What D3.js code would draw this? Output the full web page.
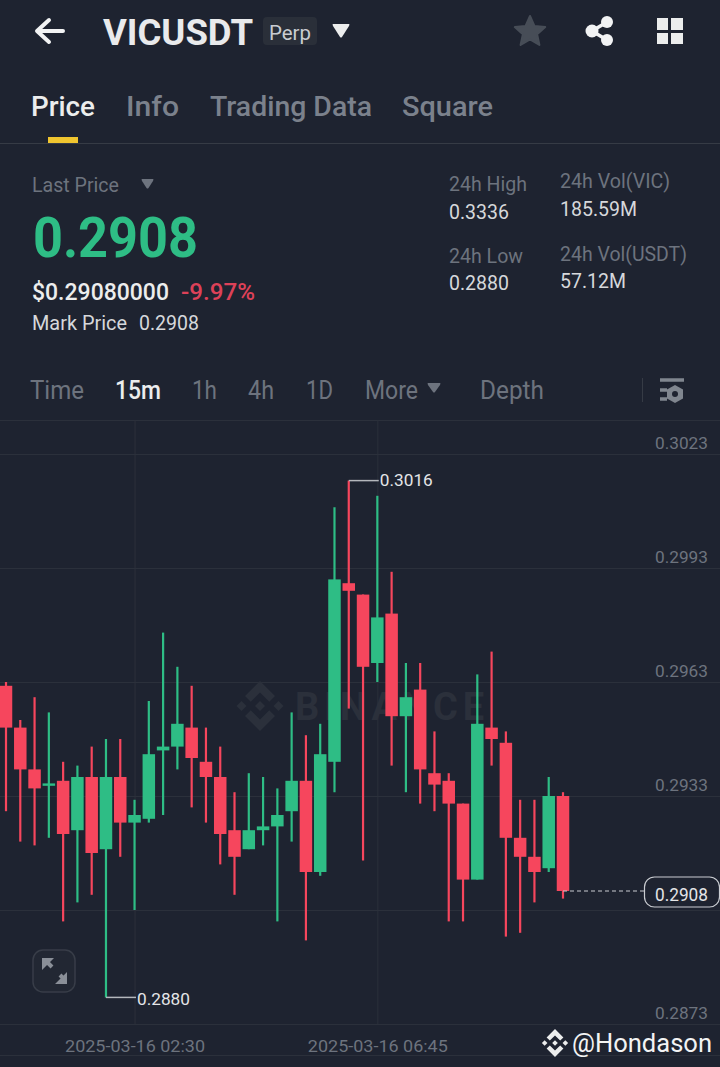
<!DOCTYPE html>
<html>
<head>
<meta charset="utf-8">
<script src="https://cdn.jsdelivr.net/npm/d3@7"></script>
<style>
  html, body { margin: 0; padding: 0; background: #1e2330; }
  svg { display: block; font-family: Roboto, sans-serif; }
</style>
</head>
<body>
<svg id="chart"></svg>
<script>
// candles, 15m each
const opens  = [.2962,.2951,.2940,.2936,.2937,.2924,.2938,.2919,.2938,.2926,.2927,.2945,.2946,.2951,.2942,.2938,.2924,.2919,.2924,.2925,.2929,.2937,.2913,.2942,.2989,.2986,.2968,.2981,.2954,.2961,.2939,.2937,.2931,.2911,.2951,.2947,.2922,.2917,.2914,.2933];
const closes = [.2951,.2940,.2935,.2936,.2923,.2938,.2918,.2938,.2926,.2928,.2944,.2946,.2952,.2943,.2938,.2923,.2917,.2924,.2925,.2928,.2937,.2913,.2944,.2990,.2987,.2967,.2980,.2954,.2959,.2940,.2936,.2931,.2911,.2952,.2948,.2922,.2917,.2913,.2933,.2908];
const highs  = [.2963,.2953,.2959,.2955,.2942,.2941,.2946,.2948,.2948,.2932,.2958,.2976,.2967,.2962,.2951,.2946,.2934,.2939,.2938,.2935,.2955,.2949,.2952,.3009,.3016,.2986,.3012,.2992,.2968,.2968,.2950,.2939,.2931,.2965,.2971,.2950,.2932,.2932,.2938,.2934];
const lows   = [.2929,.2921,.2920,.2922,.2900,.2905,.2907,.2880,.2917,.2903,.2926,.2928,.2940,.2930,.2926,.2915,.2907,.2919,.2920,.2900,.2921,.2895,.2912,.2934,.2956,.2916,.2963,.2941,.2934,.2931,.2929,.2900,.2900,.2911,.2941,.2896,.2897,.2905,.2913,.2906];

const priceTicks = [.3023,.2993,.2963,.2933,.2903,.2873];
const hiddenTick = .2903; // its label sits behind the last price tag
const firstTime = new Date(2025, 2, 16, 0, 15);
const timeTicks = [new Date(2025, 2, 16, 2, 30), new Date(2025, 2, 16, 6, 45)];
const lastPrice = .2908;
const highMark = .3016;
const lowMark = .2880;

const width = 720, height = 1067;
const chartTop = 420, chartBottom = 1024, axisBottom = 1055;
const bg = '#1e2330', grid = '#2b303b';
const up = '#2ebd85', down = '#f6465d';
const muted = '#6d737e', soft = '#d6d8db';

const svg = d3.select('#chart')
  .attr('width', width)
  .attr('height', height)
  .attr('viewBox', [0, 0, width, height]);

svg.append('rect').attr('width', width).attr('height', height).attr('fill', bg);

const candles = opens.map((o, i) => ({
  time: d3.timeMinute.offset(firstTime, i * 15),
  o, c: closes[i], h: highs[i], l: lows[i]
}));

const x = d3.scaleTime().domain([candles[0].time, candles[candles.length - 1].time]).range([6, 563]);
const y = d3.scaleLinear().domain([.2873, .3023]).range([chartBottom, 454]);

// text with a fixed width, the app font is narrower than anything installed
function label(g, text, tx, ty, size, fill, w, weight) {
  const t = g.append('text')
    .attr('x', tx).attr('y', ty)
    .attr('font-size', size)
    .attr('fill', fill)
    .attr('font-weight', weight || 400)
    .text(text);
  if (w) t.attr('textLength', w).attr('lengthAdjust', 'spacingAndGlyphs');
  return t;
}

function triangle(g, x0, y0, w, h, fill) {
  g.append('path')
    .attr('d', `M${x0 + 1},${y0}H${x0 + w - 1}Q${x0 + w},${y0} ${x0 + w - 1},${y0 + 2}L${x0 + w / 2 + 1},${y0 + h - 1}Q${x0 + w / 2},${y0 + h} ${x0 + w / 2 - 1},${y0 + h - 1}L${x0 + 1},${y0 + 2}Q${x0},${y0} ${x0 + 1},${y0}Z`)
    .attr('fill', fill);
}

function binanceLogo(g, cx, cy, r, fill) {
  const shapes = [
    [[0, -.2], [.2, 0], [0, .2], [-.2, 0]],
    [[-.74, -.2], [-.54, 0], [-.74, .2], [-.94, 0]],
    [[.74, -.2], [.94, 0], [.74, .2], [.54, 0]],
    [[0, -1], [.6, -.4], [.37, -.17], [0, -.54], [-.37, -.17], [-.6, -.4]],
    [[0, 1], [.6, .4], [.37, .17], [0, .54], [-.37, .17], [-.6, .4]]
  ];
  g.append('g').selectAll('polygon').data(shapes).join('polygon')
    .attr('points', d => d.map(p => [cx + p[0] * r, cy + p[1] * r].join(',')).join(' '))
    .attr('fill', fill);
}

// header
const head = svg.append('g');
head.append('path').attr('d', 'M63,31H38M49,20L37,31L49,42')
  .attr('fill', 'none').attr('stroke', '#f2f3f4').attr('stroke-width', 4)
  .attr('stroke-linecap', 'round').attr('stroke-linejoin', 'round');
label(head, 'VICUSDT', 103, 45, 36, '#e9eaec', 150, 700);
head.append('rect').attr('x', 263).attr('y', 17).attr('width', 54).attr('height', 28).attr('rx', 4).attr('fill', '#2a2f39');
label(head, 'Perp', 269, 40, 20, '#c9ccd1', 42);
triangle(head, 332, 24, 18, 14, '#eceded');
// star
const starPts = d3.range(10).map(i => {
  const a = -Math.PI / 2 + i * Math.PI / 5, r = i % 2 ? 7.5 : 16;
  return [530 + r * Math.cos(a), 32 + r * Math.sin(a)].join(',');
}).join(' ');
head.append('polygon').attr('points', starPts).attr('fill', '#474d57')
  .attr('stroke', '#474d57').attr('stroke-width', 2).attr('stroke-linejoin', 'round');
// share
head.append('path').attr('d', 'M607,22L592,31L607,40').attr('fill', 'none').attr('stroke', '#f2f3f4').attr('stroke-width', 3.5);
head.selectAll('circle.sh').data([[607, 22, 6], [592, 31, 6.5], [607, 40, 6]]).join('circle')
  .attr('cx', d => d[0]).attr('cy', d => d[1]).attr('r', d => d[2]).attr('fill', '#f2f3f4');
// layout icon
head.selectAll('rect.ic').data([[657, 18, 11, 12], [671, 18, 12, 12], [657, 33, 11, 11], [671, 33, 12, 11]]).join('rect')
  .attr('x', d => d[0]).attr('y', d => d[1]).attr('width', d => d[2]).attr('height', d => d[3]).attr('fill', '#eceded');

// tabs
label(head, 'Price', 31, 116, 28, '#eceded', 64, 500);
label(head, 'Info', 126, 116, 28, '#7b818c', 53, 500);
label(head, 'Trading Data', 210, 116, 28, '#7b818c', 162, 500);
label(head, 'Square', 402, 116, 28, '#7b818c', 91, 500);
head.append('rect').attr('x', 48).attr('y', 137).attr('width', 30).attr('height', 6).attr('fill', '#f0c52f');
head.append('line').attr('x1', 0).attr('x2', width).attr('y1', 143.5).attr('y2', 143.5).attr('stroke', '#363b45');

// price block
label(head, 'Last Price', 32, 192, 20, muted, 87);
triangle(head, 141, 179, 13, 10, muted);
label(head, '0.2908', 33, 257, 55, up, 165, 700);
label(head, '$0.29080000', 32, 300, 23, '#eceded', 137, 500);
label(head, '-9.97%', 181, 300, 23, '#dd4158', 74, 500);
label(head, 'Mark Price', 32, 330, 20, soft, 95);
label(head, '0.2908', 139, 330, 20, soft, 60);

label(head, '24h High', 449, 191, 20, muted, 78);
label(head, '0.3336', 449, 219, 20, soft, 60);
label(head, '24h Low', 449, 263, 20, muted, 74);
label(head, '0.2880', 449, 290, 20, soft, 60);
label(head, '24h Vol(VIC)', 560, 188, 20, muted, 110);
label(head, '185.59M', 560, 216, 20, soft, 77);
label(head, '24h Vol(USDT)', 560, 261, 20, muted, 127);
label(head, '57.12M', 560, 288, 20, soft, 66);

// interval row
label(head, 'Time', 30, 399, 25, muted, 54);
label(head, '15m', 115, 399, 25, '#eceded', 46, 500);
label(head, '1h', 192, 399, 25, muted, 25);
label(head, '4h', 248, 399, 25, muted, 26);
label(head, '1D', 306, 399, 25, muted, 27);
label(head, 'More', 365, 399, 25, muted, 53);
triangle(head, 427, 383, 14, 10, muted);
label(head, 'Depth', 480, 399, 25, muted, 64);
head.append('line').attr('x1', 642.5).attr('x2', 642.5).attr('y1', 378).attr('y2', 402).attr('stroke', '#363b45');
// settings icon
head.append('path').attr('d', 'M660,380H684M660,390H667M660,399H667').attr('stroke', '#80868f').attr('stroke-width', 3.5).attr('fill', 'none');
head.append('polygon').attr('points', '675,385 683,389.5 683,398.5 675,403 667,398.5 667,389.5').attr('fill', '#80868f');
head.append('circle').attr('cx', 675).attr('cy', 394).attr('r', 3).attr('fill', bg);

// chart frame and grid
svg.append('line').attr('x1', 0).attr('x2', width).attr('y1', chartTop + .5).attr('y2', chartTop + .5).attr('stroke', grid);

const xAxis = svg.append('g')
  .attr('transform', `translate(0,${chartBottom})`)
  .call(d3.axisBottom(x).tickValues(timeTicks).tickFormat(d3.timeFormat('%Y-%m-%d %H:%M')).tickSize(0).tickPadding(16));
xAxis.select('.domain').remove();
xAxis.selectAll('.tick text')
  .attr('font-family', 'Roboto, sans-serif').attr('font-size', 17).attr('fill', muted)
  .attr('textLength', 140).attr('lengthAdjust', 'spacingAndGlyphs');
xAxis.selectAll('.tick').append('line')
  .attr('y1', 0).attr('y2', chartTop - chartBottom).attr('stroke', grid);

const yAxis = svg.append('g')
  .call(d3.axisRight(y).tickValues(priceTicks)
    .tickFormat(d => d === hiddenTick ? '' : d3.format('.4f')(d))
    .tickSize(width).tickPadding(0));
yAxis.select('.domain').remove();
yAxis.selectAll('.tick line').attr('stroke', grid);
yAxis.selectAll('.tick text')
  .attr('x', 708).attr('y', -11).attr('dy', '.32em').attr('text-anchor', 'end')
  .attr('font-family', 'Roboto, sans-serif').attr('font-size', 17).attr('fill', muted)
  .attr('textLength', 53).attr('lengthAdjust', 'spacingAndGlyphs');
svg.append('line').attr('x1', 0).attr('x2', width).attr('y1', axisBottom + .5).attr('y2', axisBottom + .5).attr('stroke', grid);

// watermark
const mark = svg.append('g');
binanceLogo(mark, 260, 706, 25, '#2b303b');
mark.append('text').attr('x', 295).attr('y', 720).attr('font-size', 38).attr('font-weight', 700)
  .attr('fill', '#2b303b').attr('textLength', 189).attr('lengthAdjust', 'spacing').text('BINANCE');

// candles
const bodyWidth = 12.5;
const candle = svg.append('g').selectAll('g').data(candles).join('g')
  .attr('fill', d => d.c >= d.o ? up : down)
  .attr('stroke', d => d.c >= d.o ? up : down);
candle.append('line')
  .attr('x1', d => x(d.time)).attr('x2', d => x(d.time))
  .attr('y1', d => y(d.h)).attr('y2', d => y(d.l))
  .attr('stroke-width', 2.2);
candle.append('rect')
  .attr('stroke', 'none')
  .attr('x', d => x(d.time) - bodyWidth / 2)
  .attr('width', bodyWidth)
  .attr('y', d => Math.min(y(d.o), y(d.c)) - (d.o === d.c ? 1.2 : 0))
  .attr('height', d => Math.max(Math.abs(y(d.o) - y(d.c)), 2.4));

// high and low markers
const markers = [
  { time: candles[highs.indexOf(highMark)].time, price: highMark, dy: 5.5 },
  { time: candles[lows.indexOf(lowMark)].time, price: lowMark, dy: 7.5 }
];
const marker = svg.append('g').selectAll('g').data(markers).join('g');
marker.append('line')
  .attr('x1', d => x(d.time)).attr('x2', d => x(d.time) + 30)
  .attr('y1', d => y(d.price)).attr('y2', d => y(d.price))
  .attr('stroke', '#b4b7bc').attr('stroke-width', 1.5);
marker.append('text')
  .attr('x', d => x(d.time) + 31).attr('y', d => y(d.price) + d.dy)
  .attr('font-size', 17).attr('fill', '#e4e5e7')
  .attr('textLength', 53).attr('lengthAdjust', 'spacingAndGlyphs')
  .text(d => d.price.toFixed(4));

// last price tag
const tag = svg.append('g');
tag.append('line')
  .attr('x1', x(candles[candles.length - 1].time)).attr('x2', 644)
  .attr('y1', y(lastPrice)).attr('y2', y(lastPrice))
  .attr('stroke', '#c9ccd1').attr('stroke-dasharray', '4 3');
tag.append('rect').attr('x', 644.5).attr('y', y(lastPrice) - 14).attr('width', 75).attr('height', 30).attr('rx', 10)
  .attr('fill', bg).attr('stroke', '#c9ccd1').attr('stroke-width', 1.2);
label(tag, lastPrice.toFixed(4), 655, y(lastPrice) + 10, 18, '#e4e5e7', 53);

// expand button
const expand = svg.append('g');
expand.append('rect').attr('x', 33).attr('y', 950).attr('width', 42).attr('height', 42).attr('rx', 10)
  .attr('fill', '#222733').attr('stroke', '#383d48').attr('stroke-width', 1.5);
expand.append('path').attr('d', 'M48,963L52,967M60,975L64,979').attr('stroke', '#8a8f98').attr('stroke-width', 4);
expand.append('path').attr('d', 'M42,958H54L42,970ZM67,984H55L67,972Z').attr('fill', '#8a8f98');

// user tag
const user = svg.append('g');
binanceLogo(user, 555, 1043, 14, '#eceded');
label(user, '@Hondason', 572, 1052, 26, '#f2f3f4', 140);
</script>
</body>
</html>
